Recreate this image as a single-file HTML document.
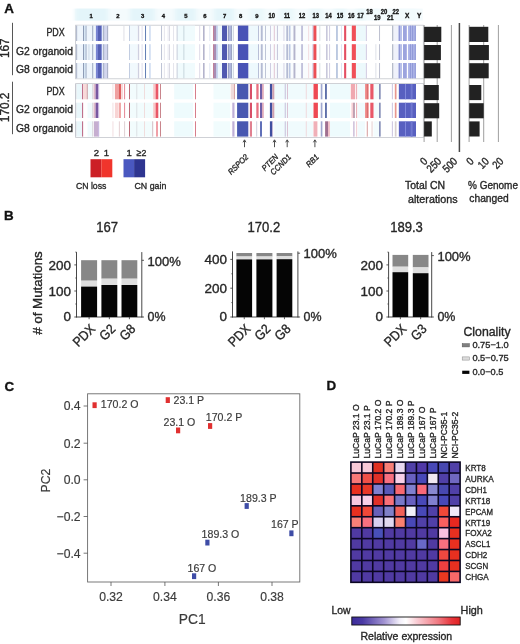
<!DOCTYPE html>
<html lang="en"><head><meta charset="utf-8"><title>Figure</title>
<style>
html,body{margin:0;padding:0;background:#fff;}
body{width:520px;height:644px;overflow:hidden;}
svg{display:block;font-family:"Liberation Sans",sans-serif;fill:#262626;}
text{stroke:#262626;stroke-width:0.34px;paint-order:stroke;}
.pc text{fill:#3a3a3a;stroke:#3a3a3a;stroke-width:0.16px;}
</style></head><body>
<svg width="520" height="644" viewBox="0 0 520 644">
<defs><filter id="bl" x="-2%" y="-5%" width="104%" height="110%"><feGaussianBlur stdDeviation="0.33"/></filter><filter id="hb" x="-2%" y="-10%" width="104%" height="120%"><feGaussianBlur stdDeviation="2.2 0.2"/></filter></defs>
<rect width="520" height="644" fill="#ffffff"/>
<g id="panelA">
<text x="4.2" y="12.5" font-size="13.4" font-weight="bold" fill="#111">A</text>
<line x1="12.5" y1="22.8" x2="12.5" y2="75.2" stroke="#444" stroke-width="0.9"/>
<line x1="12.5" y1="81.7" x2="12.5" y2="134.2" stroke="#444" stroke-width="0.9"/>
<text x="9.3" y="48.2" font-size="12" text-anchor="middle" transform="rotate(-90 9.3 48.2)" textLength="19.6" lengthAdjust="spacingAndGlyphs">167</text>
<text x="9.3" y="107.4" font-size="12" text-anchor="middle" transform="rotate(-90 9.3 107.4)" textLength="29.6" lengthAdjust="spacingAndGlyphs">170.2</text>
<text x="64.7" y="36.3" font-size="10.5" text-anchor="end" textLength="18.3" lengthAdjust="spacingAndGlyphs">PDX</text>
<text x="72.9" y="54.7" font-size="10.5" text-anchor="end" textLength="56.8" lengthAdjust="spacingAndGlyphs">G2 organoid</text>
<text x="72.9" y="73.25" font-size="10.5" text-anchor="end" textLength="56.8" lengthAdjust="spacingAndGlyphs">G8 organoid</text>
<text x="64.7" y="94.65" font-size="10.5" text-anchor="end" textLength="18.3" lengthAdjust="spacingAndGlyphs">PDX</text>
<text x="72.9" y="112.94999999999999" font-size="10.5" text-anchor="end" textLength="56.8" lengthAdjust="spacingAndGlyphs">G2 organoid</text>
<text x="72.9" y="131.54999999999998" font-size="10.5" text-anchor="end" textLength="56.8" lengthAdjust="spacingAndGlyphs">G8 organoid</text>
<rect x="75.20" y="8.60" width="347.50" height="12.00" fill="#f4fbfd"/>
<g filter="url(#hb)">
<rect x="75.20" y="8.60" width="32.80" height="12.00" fill="#e4f5fa"/>
<rect x="130.00" y="8.60" width="25.00" height="12.00" fill="#e4f5fa"/>
<rect x="175.00" y="8.60" width="21.00" height="12.00" fill="#e4f5fa"/>
<rect x="214.00" y="8.60" width="20.00" height="12.00" fill="#e4f5fa"/>
<rect x="249.00" y="8.60" width="15.00" height="12.00" fill="#ebf8fb"/>
<rect x="279.00" y="8.60" width="15.00" height="12.00" fill="#ebf8fb"/>
<rect x="309.00" y="8.60" width="13.00" height="12.00" fill="#ebf8fb"/>
<rect x="334.00" y="8.60" width="12.00" height="12.00" fill="#ebf8fb"/>
<rect x="356.00" y="8.60" width="9.00" height="12.00" fill="#ebf8fb"/>
<rect x="373.00" y="8.60" width="7.00" height="12.00" fill="#f2fbfd"/>
<rect x="387.00" y="8.60" width="5.50" height="12.00" fill="#f2fbfd"/>
<rect x="398.00" y="8.60" width="18.00" height="12.00" fill="#f2fbfd"/>
</g>
<text x="91.1" y="17.6" font-size="5.9" text-anchor="middle" font-weight="bold" fill="#111" stroke-width="0.12">1</text>
<text x="117.9" y="17.6" font-size="5.9" text-anchor="middle" font-weight="bold" fill="#111" stroke-width="0.12">2</text>
<text x="142.7" y="17.6" font-size="5.9" text-anchor="middle" font-weight="bold" fill="#111" stroke-width="0.12">3</text>
<text x="163.4" y="17.6" font-size="5.9" text-anchor="middle" font-weight="bold" fill="#111" stroke-width="0.12">4</text>
<text x="185.9" y="17.6" font-size="5.9" text-anchor="middle" font-weight="bold" fill="#111" stroke-width="0.12">5</text>
<text x="205" y="17.6" font-size="5.9" text-anchor="middle" font-weight="bold" fill="#111" stroke-width="0.12">6</text>
<text x="224.7" y="17.6" font-size="5.9" text-anchor="middle" font-weight="bold" fill="#111" stroke-width="0.12">7</text>
<text x="240.6" y="17.6" font-size="5.9" text-anchor="middle" font-weight="bold" fill="#111" stroke-width="0.12">8</text>
<text x="257" y="17.6" font-size="5.9" text-anchor="middle" font-weight="bold" fill="#111" stroke-width="0.12">9</text>
<text x="271.8" y="17.6" font-size="6.5" text-anchor="middle" font-weight="bold" textLength="6.51" lengthAdjust="spacingAndGlyphs" fill="#111" stroke-width="0.12">10</text>
<text x="287" y="17.6" font-size="6.5" text-anchor="middle" font-weight="bold" textLength="6.18" lengthAdjust="spacingAndGlyphs" fill="#111" stroke-width="0.12">11</text>
<text x="301.9" y="17.6" font-size="6.5" text-anchor="middle" font-weight="bold" textLength="6.51" lengthAdjust="spacingAndGlyphs" fill="#111" stroke-width="0.12">12</text>
<text x="315.7" y="17.6" font-size="6.5" text-anchor="middle" font-weight="bold" textLength="6.51" lengthAdjust="spacingAndGlyphs" fill="#111" stroke-width="0.12">13</text>
<text x="328.5" y="17.6" font-size="6.5" text-anchor="middle" font-weight="bold" textLength="6.51" lengthAdjust="spacingAndGlyphs" fill="#111" stroke-width="0.12">14</text>
<text x="340" y="17.6" font-size="6.5" text-anchor="middle" font-weight="bold" textLength="6.51" lengthAdjust="spacingAndGlyphs" fill="#111" stroke-width="0.12">15</text>
<text x="351.2" y="17.6" font-size="6.5" text-anchor="middle" font-weight="bold" textLength="6.51" lengthAdjust="spacingAndGlyphs" fill="#111" stroke-width="0.12">16</text>
<text x="360.4" y="17.6" font-size="6.5" text-anchor="middle" font-weight="bold" textLength="6.51" lengthAdjust="spacingAndGlyphs" fill="#111" stroke-width="0.12">17</text>
<text x="369.4" y="14.200000000000001" font-size="6.5" text-anchor="middle" font-weight="bold" textLength="6.51" lengthAdjust="spacingAndGlyphs" fill="#111" stroke-width="0.12">18</text>
<text x="377.2" y="19.900000000000002" font-size="6.5" text-anchor="middle" font-weight="bold" textLength="6.51" lengthAdjust="spacingAndGlyphs" fill="#111" stroke-width="0.12">19</text>
<text x="384.1" y="14.200000000000001" font-size="6.5" text-anchor="middle" font-weight="bold" textLength="6.51" lengthAdjust="spacingAndGlyphs" fill="#111" stroke-width="0.12">20</text>
<text x="390.2" y="19.900000000000002" font-size="6.5" text-anchor="middle" font-weight="bold" textLength="6.51" lengthAdjust="spacingAndGlyphs" fill="#111" stroke-width="0.12">21</text>
<text x="395.7" y="13.700000000000001" font-size="6.5" text-anchor="middle" font-weight="bold" textLength="6.51" lengthAdjust="spacingAndGlyphs" fill="#111" stroke-width="0.12">22</text>
<text x="407.1" y="17.6" font-size="6.5" text-anchor="middle" font-weight="bold" fill="#111" stroke-width="0.12">X</text>
<text x="419.2" y="17.6" font-size="6.5" text-anchor="middle" font-weight="bold" fill="#111" stroke-width="0.12">Y</text>
<rect x="75.6" y="25.2" width="347.7" height="53.6" fill="#fff" stroke="#c4c6cc" stroke-width="0.8"/>
<g filter="url(#bl)">
<rect x="77.20" y="25.60" width="18.70" height="15.40" fill="#eef5fc"/>
<rect x="101.90" y="25.60" width="1.40" height="15.40" fill="#eef5fc"/>
<rect x="130.00" y="25.60" width="7.50" height="15.40" fill="#f1f9fd"/>
<rect x="177.50" y="25.60" width="17.50" height="15.40" fill="#f0fbfd"/>
<rect x="217.70" y="25.60" width="4.30" height="15.40" fill="#eef8fd"/>
<rect x="231.60" y="25.60" width="1.90" height="15.40" fill="#eef8fd"/>
<rect x="248.30" y="25.60" width="9.70" height="15.40" fill="#eef9fd"/>
<rect x="258.00" y="25.60" width="54.00" height="15.40" fill="#f9fcfe"/>
<rect x="355.90" y="25.60" width="9.90" height="15.40" fill="#ecf9fc"/>
<rect x="393.20" y="25.60" width="5.00" height="15.40" fill="#f0f2fb"/>
<rect x="75.90" y="25.60" width="1.30" height="15.40" fill="#b4bccf"/>
<rect x="83.08" y="25.60" width="0.85" height="15.40" fill="#7482a2"/>
<rect x="83.90" y="25.60" width="2.60" height="15.40" fill="#d6e6f4"/>
<rect x="85.63" y="25.60" width="0.85" height="15.40" fill="#a0aac0"/>
<rect x="92.30" y="25.60" width="0.90" height="15.40" fill="#929eba"/>
<rect x="95.90" y="25.60" width="2.10" height="15.40" fill="#7884d2"/>
<rect x="98.00" y="25.60" width="3.40" height="15.40" fill="#5560b4"/>
<rect x="101.23" y="25.60" width="0.85" height="15.40" fill="#7884d2"/>
<rect x="103.30" y="25.60" width="4.80" height="15.40" fill="#d2d6ee"/>
<rect x="103.27" y="25.60" width="0.85" height="15.40" fill="#9ca4bc"/>
<rect x="107.20" y="25.60" width="0.90" height="15.40" fill="#a4aac0"/>
<rect x="123.50" y="25.60" width="0.90" height="15.40" fill="#dcdce4"/>
<rect x="129.12" y="25.60" width="0.85" height="15.40" fill="#b8c4dc"/>
<rect x="137.80" y="25.60" width="1.40" height="15.40" fill="#cfd0e0"/>
<rect x="141.60" y="25.60" width="1.00" height="15.40" fill="#dcdcec"/>
<rect x="145.17" y="25.60" width="0.85" height="15.40" fill="#4868a8"/>
<rect x="149.30" y="25.60" width="1.30" height="15.40" fill="#c4d4ee"/>
<rect x="161.18" y="25.60" width="0.85" height="15.40" fill="#b0b8cc"/>
<rect x="163.88" y="25.60" width="0.85" height="15.40" fill="#e0e0ea"/>
<rect x="167.68" y="25.60" width="0.85" height="15.40" fill="#e4e4ee"/>
<rect x="169.12" y="25.60" width="0.85" height="15.40" fill="#d4d4e0"/>
<rect x="173.18" y="25.60" width="0.85" height="15.40" fill="#e0e0e8"/>
<rect x="176.67" y="25.60" width="0.85" height="15.40" fill="#bcc4d4"/>
<rect x="183.47" y="25.60" width="0.85" height="15.40" fill="#c0d0d8"/>
<rect x="199.32" y="25.60" width="0.85" height="15.40" fill="#d8d4e4"/>
<rect x="203.00" y="25.60" width="1.60" height="15.40" fill="#b4b4cc"/>
<rect x="209.42" y="25.60" width="0.85" height="15.40" fill="#d8e0f0"/>
<rect x="213.00" y="25.60" width="1.00" height="15.40" fill="#c08098"/>
<rect x="214.00" y="25.60" width="2.25" height="15.40" fill="#a88cb4"/>
<rect x="216.25" y="25.60" width="1.45" height="15.40" fill="#b8c8e8"/>
<rect x="222.00" y="25.60" width="5.10" height="15.40" fill="#5058b0"/>
<rect x="228.10" y="25.60" width="3.50" height="15.40" fill="#b0b8e0"/>
<rect x="227.92" y="25.60" width="0.85" height="15.40" fill="#9098b8"/>
<rect x="230.92" y="25.60" width="0.85" height="15.40" fill="#9098b8"/>
<rect x="233.12" y="25.60" width="0.85" height="15.40" fill="#d0d4e0"/>
<rect x="237.90" y="25.60" width="10.40" height="15.40" fill="#4a52b6"/>
<rect x="258.07" y="25.60" width="0.85" height="15.40" fill="#adb4d0"/>
<rect x="260.80" y="25.60" width="1.90" height="15.40" fill="#b4bbd3"/>
<rect x="265.03" y="25.60" width="0.85" height="15.40" fill="#b4bbd0"/>
<rect x="270.03" y="25.60" width="0.85" height="15.40" fill="#c9c5dd"/>
<rect x="273.80" y="25.60" width="1.00" height="15.40" fill="#e1c5d3"/>
<rect x="276.93" y="25.60" width="0.85" height="15.40" fill="#bbbbd3"/>
<rect x="283.53" y="25.60" width="0.85" height="15.40" fill="#d0cce1"/>
<rect x="286.30" y="25.60" width="1.90" height="15.40" fill="#b4bbd3"/>
<rect x="289.20" y="25.60" width="1.20" height="15.40" fill="#adbbdd"/>
<rect x="293.50" y="25.60" width="1.90" height="15.40" fill="#b4b4cc"/>
<rect x="301.20" y="25.60" width="1.70" height="15.40" fill="#bbbbd7"/>
<rect x="308.27" y="25.60" width="0.85" height="15.40" fill="#f0d8dc"/>
<rect x="312.60" y="25.60" width="0.90" height="15.40" fill="#b0a8d0"/>
<rect x="313.50" y="25.60" width="2.90" height="15.40" fill="#ec5054"/>
<rect x="319.43" y="25.60" width="0.85" height="15.40" fill="#d0dce0"/>
<rect x="326.20" y="25.60" width="1.30" height="15.40" fill="#bbbbd3"/>
<rect x="329.22" y="25.60" width="0.85" height="15.40" fill="#c9c5dd"/>
<rect x="336.10" y="25.60" width="1.70" height="15.40" fill="#b4c2dd"/>
<rect x="341.03" y="25.60" width="0.85" height="15.40" fill="#d7e1f2"/>
<rect x="344.10" y="25.60" width="2.10" height="15.40" fill="#e45064"/>
<rect x="351.07" y="25.60" width="0.85" height="15.40" fill="#f4d8d8"/>
<rect x="352.00" y="25.60" width="3.90" height="15.40" fill="#f05058"/>
<rect x="365.88" y="25.60" width="0.85" height="15.40" fill="#c8c0dc"/>
<rect x="379.18" y="25.60" width="0.85" height="15.40" fill="#b0b4c6"/>
<rect x="392.30" y="25.60" width="0.90" height="15.40" fill="#98a0b4"/>
<rect x="398.20" y="25.60" width="3.80" height="15.40" fill="#b8c0ea"/>
<rect x="399.18" y="25.60" width="0.85" height="15.40" fill="#8890d0"/>
<rect x="403.00" y="25.60" width="3.80" height="15.40" fill="#9ca4de"/>
<rect x="408.00" y="25.60" width="8.00" height="15.40" fill="#aeb6e8"/>
<rect x="409.88" y="25.60" width="0.85" height="15.40" fill="#8890d2"/>
<rect x="412.27" y="25.60" width="0.85" height="15.40" fill="#8890d2"/>
<rect x="414.72" y="25.60" width="0.85" height="15.40" fill="#8890d2"/>
<rect x="77.20" y="44.20" width="18.70" height="15.80" fill="#eef5fc"/>
<rect x="101.90" y="44.20" width="1.40" height="15.80" fill="#eef5fc"/>
<rect x="130.00" y="44.20" width="7.50" height="15.80" fill="#f1f9fd"/>
<rect x="177.50" y="44.20" width="17.50" height="15.80" fill="#f0fbfd"/>
<rect x="217.70" y="44.20" width="4.30" height="15.80" fill="#eef8fd"/>
<rect x="231.60" y="44.20" width="1.90" height="15.80" fill="#eef8fd"/>
<rect x="248.30" y="44.20" width="9.70" height="15.80" fill="#eef9fd"/>
<rect x="258.00" y="44.20" width="54.00" height="15.80" fill="#f9fcfe"/>
<rect x="355.90" y="44.20" width="9.90" height="15.80" fill="#ecf9fc"/>
<rect x="393.20" y="44.20" width="5.00" height="15.80" fill="#f0f2fb"/>
<rect x="75.90" y="44.20" width="1.30" height="15.80" fill="#b4bccf"/>
<rect x="83.08" y="44.20" width="0.85" height="15.80" fill="#7482a2"/>
<rect x="83.90" y="44.20" width="2.60" height="15.80" fill="#d6e6f4"/>
<rect x="85.63" y="44.20" width="0.85" height="15.80" fill="#a0aac0"/>
<rect x="88.53" y="44.20" width="0.85" height="15.80" fill="#c8d4e4"/>
<rect x="92.30" y="44.20" width="0.90" height="15.80" fill="#929eba"/>
<rect x="95.90" y="44.20" width="2.10" height="15.80" fill="#7884d2"/>
<rect x="98.00" y="44.20" width="3.40" height="15.80" fill="#5560b4"/>
<rect x="101.23" y="44.20" width="0.85" height="15.80" fill="#7884d2"/>
<rect x="103.30" y="44.20" width="4.80" height="15.80" fill="#d2d6ee"/>
<rect x="103.27" y="44.20" width="0.85" height="15.80" fill="#9ca4bc"/>
<rect x="107.20" y="44.20" width="0.90" height="15.80" fill="#a4aac0"/>
<rect x="129.12" y="44.20" width="0.85" height="15.80" fill="#b8c4dc"/>
<rect x="137.80" y="44.20" width="1.40" height="15.80" fill="#cfd0e0"/>
<rect x="141.60" y="44.20" width="1.00" height="15.80" fill="#dcdcec"/>
<rect x="145.17" y="44.20" width="0.85" height="15.80" fill="#4868a8"/>
<rect x="149.30" y="44.20" width="1.30" height="15.80" fill="#c4d4ee"/>
<rect x="161.18" y="44.20" width="0.85" height="15.80" fill="#b0b8cc"/>
<rect x="163.88" y="44.20" width="0.85" height="15.80" fill="#e0e0ea"/>
<rect x="167.68" y="44.20" width="0.85" height="15.80" fill="#e4e4ee"/>
<rect x="169.12" y="44.20" width="0.85" height="15.80" fill="#d4d4e0"/>
<rect x="173.18" y="44.20" width="0.85" height="15.80" fill="#e0e0e8"/>
<rect x="176.67" y="44.20" width="0.85" height="15.80" fill="#bcc4d4"/>
<rect x="183.47" y="44.20" width="0.85" height="15.80" fill="#c0d0d8"/>
<rect x="199.32" y="44.20" width="0.85" height="15.80" fill="#d8d4e4"/>
<rect x="203.00" y="44.20" width="1.60" height="15.80" fill="#b4b4cc"/>
<rect x="209.42" y="44.20" width="0.85" height="15.80" fill="#d8e0f0"/>
<rect x="213.00" y="44.20" width="1.00" height="15.80" fill="#c08098"/>
<rect x="214.00" y="44.20" width="2.25" height="15.80" fill="#a88cb4"/>
<rect x="216.25" y="44.20" width="1.45" height="15.80" fill="#b8c8e8"/>
<rect x="222.00" y="44.20" width="5.10" height="15.80" fill="#5058b0"/>
<rect x="228.10" y="44.20" width="3.50" height="15.80" fill="#b0b8e0"/>
<rect x="227.92" y="44.20" width="0.85" height="15.80" fill="#9098b8"/>
<rect x="230.92" y="44.20" width="0.85" height="15.80" fill="#9098b8"/>
<rect x="233.12" y="44.20" width="0.85" height="15.80" fill="#d0d4e0"/>
<rect x="237.90" y="44.20" width="10.40" height="15.80" fill="#4a52b6"/>
<rect x="258.07" y="44.20" width="0.85" height="15.80" fill="#adb4d0"/>
<rect x="260.80" y="44.20" width="1.90" height="15.80" fill="#b4bbd3"/>
<rect x="265.03" y="44.20" width="0.85" height="15.80" fill="#b4bbd0"/>
<rect x="270.03" y="44.20" width="0.85" height="15.80" fill="#c9c5dd"/>
<rect x="273.80" y="44.20" width="1.00" height="15.80" fill="#e1c5d3"/>
<rect x="276.93" y="44.20" width="0.85" height="15.80" fill="#bbbbd3"/>
<rect x="283.53" y="44.20" width="0.85" height="15.80" fill="#d0cce1"/>
<rect x="286.30" y="44.20" width="1.90" height="15.80" fill="#b4bbd3"/>
<rect x="289.20" y="44.20" width="1.20" height="15.80" fill="#adbbdd"/>
<rect x="293.50" y="44.20" width="1.90" height="15.80" fill="#b4b4cc"/>
<rect x="301.20" y="44.20" width="1.70" height="15.80" fill="#bbbbd7"/>
<rect x="308.27" y="44.20" width="0.85" height="15.80" fill="#f0d8dc"/>
<rect x="312.60" y="44.20" width="0.90" height="15.80" fill="#b0a8d0"/>
<rect x="313.50" y="44.20" width="2.90" height="15.80" fill="#ec5054"/>
<rect x="319.43" y="44.20" width="0.85" height="15.80" fill="#d0dce0"/>
<rect x="326.20" y="44.20" width="1.30" height="15.80" fill="#bbbbd3"/>
<rect x="329.22" y="44.20" width="0.85" height="15.80" fill="#c9c5dd"/>
<rect x="336.10" y="44.20" width="1.70" height="15.80" fill="#b4c2dd"/>
<rect x="341.03" y="44.20" width="0.85" height="15.80" fill="#d7e1f2"/>
<rect x="344.10" y="44.20" width="2.10" height="15.80" fill="#e45064"/>
<rect x="351.07" y="44.20" width="0.85" height="15.80" fill="#f4d8d8"/>
<rect x="352.00" y="44.20" width="3.90" height="15.80" fill="#f05058"/>
<rect x="365.88" y="44.20" width="0.85" height="15.80" fill="#c8c0dc"/>
<rect x="375.47" y="44.20" width="0.85" height="15.80" fill="#d8dce4"/>
<rect x="379.18" y="44.20" width="0.85" height="15.80" fill="#b0b4c6"/>
<rect x="392.30" y="44.20" width="0.90" height="15.80" fill="#98a0b4"/>
<rect x="398.20" y="44.20" width="3.80" height="15.80" fill="#b8c0ea"/>
<rect x="399.18" y="44.20" width="0.85" height="15.80" fill="#8890d0"/>
<rect x="403.00" y="44.20" width="3.80" height="15.80" fill="#9ca4de"/>
<rect x="408.00" y="44.20" width="8.00" height="15.80" fill="#aeb6e8"/>
<rect x="409.88" y="44.20" width="0.85" height="15.80" fill="#8890d2"/>
<rect x="412.27" y="44.20" width="0.85" height="15.80" fill="#8890d2"/>
<rect x="414.72" y="44.20" width="0.85" height="15.80" fill="#8890d2"/>
<rect x="77.20" y="63.00" width="18.70" height="15.30" fill="#eef5fc"/>
<rect x="101.90" y="63.00" width="1.40" height="15.30" fill="#eef5fc"/>
<rect x="130.00" y="63.00" width="7.50" height="15.30" fill="#f1f9fd"/>
<rect x="177.50" y="63.00" width="17.50" height="15.30" fill="#f0fbfd"/>
<rect x="217.70" y="63.00" width="4.30" height="15.30" fill="#eef8fd"/>
<rect x="231.60" y="63.00" width="1.90" height="15.30" fill="#eef8fd"/>
<rect x="248.30" y="63.00" width="9.70" height="15.30" fill="#eef9fd"/>
<rect x="258.00" y="63.00" width="54.00" height="15.30" fill="#f9fcfe"/>
<rect x="355.90" y="63.00" width="9.90" height="15.30" fill="#ecf9fc"/>
<rect x="393.20" y="63.00" width="5.00" height="15.30" fill="#f0f2fb"/>
<rect x="75.90" y="63.00" width="1.30" height="15.30" fill="#b4bccf"/>
<rect x="83.08" y="63.00" width="0.85" height="15.30" fill="#7482a2"/>
<rect x="83.90" y="63.00" width="2.60" height="15.30" fill="#d6e6f4"/>
<rect x="85.63" y="63.00" width="0.85" height="15.30" fill="#a0aac0"/>
<rect x="92.30" y="63.00" width="0.90" height="15.30" fill="#929eba"/>
<rect x="95.90" y="63.00" width="2.10" height="15.30" fill="#7884d2"/>
<rect x="98.00" y="63.00" width="3.40" height="15.30" fill="#5560b4"/>
<rect x="101.23" y="63.00" width="0.85" height="15.30" fill="#7884d2"/>
<rect x="103.30" y="63.00" width="4.80" height="15.30" fill="#d2d6ee"/>
<rect x="103.27" y="63.00" width="0.85" height="15.30" fill="#9ca4bc"/>
<rect x="107.20" y="63.00" width="0.90" height="15.30" fill="#a4aac0"/>
<rect x="129.12" y="63.00" width="0.85" height="15.30" fill="#b8c4dc"/>
<rect x="137.80" y="63.00" width="1.40" height="15.30" fill="#cfd0e0"/>
<rect x="141.60" y="63.00" width="1.00" height="15.30" fill="#dcdcec"/>
<rect x="145.17" y="63.00" width="0.85" height="15.30" fill="#4868a8"/>
<rect x="149.30" y="63.00" width="1.30" height="15.30" fill="#c4d4ee"/>
<rect x="161.18" y="63.00" width="0.85" height="15.30" fill="#b0b8cc"/>
<rect x="163.88" y="63.00" width="0.85" height="15.30" fill="#e0e0ea"/>
<rect x="167.68" y="63.00" width="0.85" height="15.30" fill="#e4e4ee"/>
<rect x="169.12" y="63.00" width="0.85" height="15.30" fill="#d4d4e0"/>
<rect x="173.18" y="63.00" width="0.85" height="15.30" fill="#e0e0e8"/>
<rect x="176.67" y="63.00" width="0.85" height="15.30" fill="#bcc4d4"/>
<rect x="183.47" y="63.00" width="0.85" height="15.30" fill="#c0d0d8"/>
<rect x="199.32" y="63.00" width="0.85" height="15.30" fill="#d8d4e4"/>
<rect x="203.00" y="63.00" width="1.60" height="15.30" fill="#b4b4cc"/>
<rect x="209.42" y="63.00" width="0.85" height="15.30" fill="#d8e0f0"/>
<rect x="213.00" y="63.00" width="1.00" height="15.30" fill="#c08098"/>
<rect x="214.00" y="63.00" width="2.25" height="15.30" fill="#a88cb4"/>
<rect x="216.25" y="63.00" width="1.45" height="15.30" fill="#b8c8e8"/>
<rect x="222.00" y="63.00" width="5.10" height="15.30" fill="#5058b0"/>
<rect x="228.10" y="63.00" width="3.50" height="15.30" fill="#b0b8e0"/>
<rect x="227.92" y="63.00" width="0.85" height="15.30" fill="#9098b8"/>
<rect x="230.92" y="63.00" width="0.85" height="15.30" fill="#9098b8"/>
<rect x="233.12" y="63.00" width="0.85" height="15.30" fill="#d0d4e0"/>
<rect x="237.90" y="63.00" width="10.40" height="15.30" fill="#4a52b6"/>
<rect x="258.07" y="63.00" width="0.85" height="15.30" fill="#adb4d0"/>
<rect x="260.80" y="63.00" width="1.90" height="15.30" fill="#b4bbd3"/>
<rect x="265.03" y="63.00" width="0.85" height="15.30" fill="#b4bbd0"/>
<rect x="270.03" y="63.00" width="0.85" height="15.30" fill="#c9c5dd"/>
<rect x="273.80" y="63.00" width="1.00" height="15.30" fill="#e1c5d3"/>
<rect x="276.93" y="63.00" width="0.85" height="15.30" fill="#bbbbd3"/>
<rect x="283.53" y="63.00" width="0.85" height="15.30" fill="#d0cce1"/>
<rect x="286.30" y="63.00" width="1.90" height="15.30" fill="#b4bbd3"/>
<rect x="289.20" y="63.00" width="1.20" height="15.30" fill="#adbbdd"/>
<rect x="293.50" y="63.00" width="1.90" height="15.30" fill="#b4b4cc"/>
<rect x="301.20" y="63.00" width="1.70" height="15.30" fill="#bbbbd7"/>
<rect x="308.27" y="63.00" width="0.85" height="15.30" fill="#f0d8dc"/>
<rect x="312.60" y="63.00" width="0.90" height="15.30" fill="#b0a8d0"/>
<rect x="313.50" y="63.00" width="2.90" height="15.30" fill="#ec5054"/>
<rect x="319.43" y="63.00" width="0.85" height="15.30" fill="#d0dce0"/>
<rect x="326.20" y="63.00" width="1.30" height="15.30" fill="#bbbbd3"/>
<rect x="329.22" y="63.00" width="0.85" height="15.30" fill="#c9c5dd"/>
<rect x="336.10" y="63.00" width="1.70" height="15.30" fill="#b4c2dd"/>
<rect x="341.03" y="63.00" width="0.85" height="15.30" fill="#d7e1f2"/>
<rect x="344.10" y="63.00" width="2.10" height="15.30" fill="#e45064"/>
<rect x="351.07" y="63.00" width="0.85" height="15.30" fill="#f4d8d8"/>
<rect x="352.00" y="63.00" width="3.90" height="15.30" fill="#f05058"/>
<rect x="365.88" y="63.00" width="0.85" height="15.30" fill="#c8c0dc"/>
<rect x="375.47" y="63.00" width="0.85" height="15.30" fill="#d8dce4"/>
<rect x="379.18" y="63.00" width="0.85" height="15.30" fill="#b0b4c6"/>
<rect x="392.30" y="63.00" width="0.90" height="15.30" fill="#98a0b4"/>
<rect x="398.20" y="63.00" width="3.80" height="15.30" fill="#b8c0ea"/>
<rect x="399.18" y="63.00" width="0.85" height="15.30" fill="#8890d0"/>
<rect x="403.00" y="63.00" width="3.80" height="15.30" fill="#9ca4de"/>
<rect x="408.00" y="63.00" width="8.00" height="15.30" fill="#aeb6e8"/>
<rect x="409.88" y="63.00" width="0.85" height="15.30" fill="#8890d2"/>
<rect x="412.27" y="63.00" width="0.85" height="15.30" fill="#8890d2"/>
<rect x="414.72" y="63.00" width="0.85" height="15.30" fill="#8890d2"/>
</g>
<rect x="75.6" y="83.6" width="347.7" height="53.8" fill="#fff" stroke="#c4c6cc" stroke-width="0.8"/>
<g filter="url(#bl)">
<rect x="76.50" y="84.00" width="5.50" height="15.30" fill="#e9f7fb"/>
<rect x="87.50" y="84.00" width="5.50" height="15.30" fill="#f0fbfd"/>
<rect x="130.00" y="84.00" width="23.00" height="15.30" fill="#f2fcfd"/>
<rect x="174.20" y="84.00" width="18.80" height="15.30" fill="#eefbfd"/>
<rect x="213.50" y="84.00" width="16.50" height="15.30" fill="#f1fcfd"/>
<rect x="274.30" y="84.00" width="38.70" height="15.30" fill="#f0fbfd"/>
<rect x="330.00" y="84.00" width="20.00" height="15.30" fill="#eefbfd"/>
<rect x="357.60" y="84.00" width="7.40" height="15.30" fill="#f0fbfd"/>
<rect x="373.50" y="84.00" width="5.50" height="15.30" fill="#f3fcfd"/>
<rect x="75.38" y="84.00" width="0.85" height="15.30" fill="#c0c4cc"/>
<rect x="82.20" y="84.00" width="0.90" height="15.30" fill="#b05070"/>
<rect x="83.10" y="84.00" width="3.90" height="15.30" fill="#f8dada"/>
<rect x="86.83" y="84.00" width="0.85" height="15.30" fill="#c09098"/>
<rect x="92.42" y="84.00" width="0.85" height="15.30" fill="#d0c8d0"/>
<rect x="93.70" y="84.00" width="1.90" height="15.30" fill="#e0b8c8"/>
<rect x="95.60" y="84.00" width="2.40" height="15.30" fill="#7858a0"/>
<rect x="98.00" y="84.00" width="1.20" height="15.30" fill="#c8b8e0"/>
<rect x="112.53" y="84.00" width="0.85" height="15.30" fill="#f0d8dc"/>
<rect x="114.90" y="84.00" width="3.80" height="15.30" fill="#f0a0a0"/>
<rect x="118.70" y="84.00" width="2.40" height="15.30" fill="#e06060"/>
<rect x="121.10" y="84.00" width="1.90" height="15.30" fill="#f8d8d8"/>
<rect x="124.23" y="84.00" width="0.85" height="15.30" fill="#e07080"/>
<rect x="129.02" y="84.00" width="0.85" height="15.30" fill="#b05060"/>
<rect x="136.38" y="84.00" width="0.85" height="15.30" fill="#d8dce0"/>
<rect x="144.07" y="84.00" width="0.85" height="15.30" fill="#f0d8d8"/>
<rect x="153.20" y="84.00" width="2.40" height="15.30" fill="#f8c8c8"/>
<rect x="155.60" y="84.00" width="2.70" height="15.30" fill="#e85868"/>
<rect x="160.02" y="84.00" width="0.85" height="15.30" fill="#c07078"/>
<rect x="195.02" y="84.00" width="0.85" height="15.30" fill="#d06878"/>
<rect x="230.70" y="84.00" width="3.30" height="15.30" fill="#f0dada"/>
<rect x="233.97" y="84.00" width="0.85" height="15.30" fill="#d09090"/>
<rect x="237.10" y="84.00" width="11.20" height="15.30" fill="#4858b0"/>
<rect x="249.90" y="84.00" width="2.10" height="15.30" fill="#d85068"/>
<rect x="256.30" y="84.00" width="2.30" height="15.30" fill="#e87080"/>
<rect x="260.00" y="84.00" width="2.25" height="15.30" fill="#7060a8"/>
<rect x="262.25" y="84.00" width="1.45" height="15.30" fill="#e0a0b0"/>
<rect x="269.90" y="84.00" width="2.40" height="15.30" fill="#4050a0"/>
<rect x="272.30" y="84.00" width="2.00" height="15.30" fill="#d0a0b0"/>
<rect x="284.78" y="84.00" width="0.85" height="15.30" fill="#c0b4d4"/>
<rect x="287.07" y="84.00" width="0.85" height="15.30" fill="#d8b8cc"/>
<rect x="305.82" y="84.00" width="0.85" height="15.30" fill="#f0d4d8"/>
<rect x="313.50" y="84.00" width="4.40" height="15.30" fill="#ee4a52"/>
<rect x="320.75" y="84.00" width="1.65" height="15.30" fill="#a0a8d0"/>
<rect x="325.10" y="84.00" width="1.70" height="15.30" fill="#5060a0"/>
<rect x="350.80" y="84.00" width="4.40" height="15.30" fill="#f0a8b0"/>
<rect x="356.20" y="84.00" width="0.90" height="15.30" fill="#e8a0a8"/>
<rect x="365.10" y="84.00" width="3.60" height="15.30" fill="#f08888"/>
<rect x="366.88" y="84.00" width="0.85" height="15.30" fill="#d06868"/>
<rect x="370.30" y="84.00" width="3.20" height="15.30" fill="#e85868"/>
<rect x="379.00" y="84.00" width="1.70" height="15.30" fill="#8890b8"/>
<rect x="391.88" y="84.00" width="0.85" height="15.30" fill="#c0b8d8"/>
<rect x="394.80" y="84.00" width="1.70" height="15.30" fill="#e89890"/>
<rect x="398.85" y="84.00" width="17.15" height="15.30" fill="#5860c0"/>
<rect x="405.02" y="84.00" width="0.85" height="15.30" fill="#8890e0"/>
<rect x="410.70" y="84.00" width="1.90" height="15.30" fill="#7078d0"/>
<rect x="76.50" y="102.70" width="5.50" height="15.30" fill="#e9f7fb"/>
<rect x="87.50" y="102.70" width="5.50" height="15.30" fill="#f0fbfd"/>
<rect x="130.00" y="102.70" width="23.00" height="15.30" fill="#f2fcfd"/>
<rect x="174.20" y="102.70" width="18.80" height="15.30" fill="#eefbfd"/>
<rect x="213.50" y="102.70" width="16.50" height="15.30" fill="#f1fcfd"/>
<rect x="274.30" y="102.70" width="38.70" height="15.30" fill="#f0fbfd"/>
<rect x="330.00" y="102.70" width="20.00" height="15.30" fill="#eefbfd"/>
<rect x="357.60" y="102.70" width="7.40" height="15.30" fill="#f0fbfd"/>
<rect x="373.50" y="102.70" width="5.50" height="15.30" fill="#f3fcfd"/>
<rect x="75.38" y="102.70" width="0.85" height="15.30" fill="#c0c4cc"/>
<rect x="82.20" y="102.70" width="0.90" height="15.30" fill="#b05070"/>
<rect x="92.42" y="102.70" width="0.85" height="15.30" fill="#d0c8d0"/>
<rect x="93.70" y="102.70" width="1.90" height="15.30" fill="#e0b8c8"/>
<rect x="95.60" y="102.70" width="2.40" height="15.30" fill="#7858a0"/>
<rect x="98.00" y="102.70" width="1.20" height="15.30" fill="#c8b8e0"/>
<rect x="112.53" y="102.70" width="0.85" height="15.30" fill="#f0d8dc"/>
<rect x="114.90" y="102.70" width="3.80" height="15.30" fill="#f8d4d4"/>
<rect x="119.00" y="102.70" width="2.00" height="15.30" fill="#f0a8a8"/>
<rect x="124.23" y="102.70" width="0.85" height="15.30" fill="#e07080"/>
<rect x="129.02" y="102.70" width="0.85" height="15.30" fill="#b05060"/>
<rect x="136.38" y="102.70" width="0.85" height="15.30" fill="#d8dce0"/>
<rect x="144.07" y="102.70" width="0.85" height="15.30" fill="#f0d8d8"/>
<rect x="153.20" y="102.70" width="2.40" height="15.30" fill="#f8c8c8"/>
<rect x="155.60" y="102.70" width="2.70" height="15.30" fill="#e85868"/>
<rect x="160.02" y="102.70" width="0.85" height="15.30" fill="#c07078"/>
<rect x="195.02" y="102.70" width="0.85" height="15.30" fill="#d06878"/>
<rect x="232.30" y="102.70" width="2.20" height="15.30" fill="#c0b0d8"/>
<rect x="237.10" y="102.70" width="11.20" height="15.30" fill="#4858b0"/>
<rect x="249.90" y="102.70" width="2.10" height="15.30" fill="#d85068"/>
<rect x="256.30" y="102.70" width="2.30" height="15.30" fill="#e87080"/>
<rect x="260.00" y="102.70" width="2.25" height="15.30" fill="#7060a8"/>
<rect x="262.25" y="102.70" width="1.45" height="15.30" fill="#e0a0b0"/>
<rect x="269.90" y="102.70" width="2.40" height="15.30" fill="#4050a0"/>
<rect x="272.30" y="102.70" width="2.00" height="15.30" fill="#d0a0b0"/>
<rect x="284.78" y="102.70" width="0.85" height="15.30" fill="#c0b4d4"/>
<rect x="287.07" y="102.70" width="0.85" height="15.30" fill="#d8b8cc"/>
<rect x="305.82" y="102.70" width="0.85" height="15.30" fill="#f0d4d8"/>
<rect x="313.50" y="102.70" width="4.40" height="15.30" fill="#ee4a52"/>
<rect x="320.75" y="102.70" width="1.65" height="15.30" fill="#a0a8d0"/>
<rect x="325.10" y="102.70" width="1.70" height="15.30" fill="#5060a0"/>
<rect x="351.40" y="102.70" width="1.90" height="15.30" fill="#f8d0d4"/>
<rect x="353.30" y="102.70" width="1.40" height="15.30" fill="#a88098"/>
<rect x="356.20" y="102.70" width="0.90" height="15.30" fill="#e8a0a8"/>
<rect x="365.10" y="102.70" width="3.60" height="15.30" fill="#f08888"/>
<rect x="366.88" y="102.70" width="0.85" height="15.30" fill="#d06868"/>
<rect x="370.30" y="102.70" width="3.20" height="15.30" fill="#e85868"/>
<rect x="379.00" y="102.70" width="1.70" height="15.30" fill="#8890b8"/>
<rect x="391.88" y="102.70" width="0.85" height="15.30" fill="#c0b8d8"/>
<rect x="394.80" y="102.70" width="1.70" height="15.30" fill="#e89890"/>
<rect x="398.85" y="102.70" width="17.15" height="15.30" fill="#5860c0"/>
<rect x="405.02" y="102.70" width="0.85" height="15.30" fill="#8890e0"/>
<rect x="410.70" y="102.70" width="1.90" height="15.30" fill="#7078d0"/>
<rect x="76.50" y="121.30" width="5.50" height="15.30" fill="#e9f7fb"/>
<rect x="87.50" y="121.30" width="5.50" height="15.30" fill="#f0fbfd"/>
<rect x="130.00" y="121.30" width="23.00" height="15.30" fill="#f2fcfd"/>
<rect x="174.20" y="121.30" width="18.80" height="15.30" fill="#eefbfd"/>
<rect x="213.50" y="121.30" width="16.50" height="15.30" fill="#f1fcfd"/>
<rect x="274.30" y="121.30" width="38.70" height="15.30" fill="#f0fbfd"/>
<rect x="330.00" y="121.30" width="20.00" height="15.30" fill="#eefbfd"/>
<rect x="357.60" y="121.30" width="7.40" height="15.30" fill="#f0fbfd"/>
<rect x="373.50" y="121.30" width="5.50" height="15.30" fill="#f3fcfd"/>
<rect x="75.38" y="121.30" width="0.85" height="15.30" fill="#c0c4cc"/>
<rect x="82.20" y="121.30" width="0.90" height="15.30" fill="#b05070"/>
<rect x="92.42" y="121.30" width="0.85" height="15.30" fill="#d0c8d0"/>
<rect x="94.00" y="121.30" width="4.50" height="15.30" fill="#c6aed0"/>
<rect x="98.00" y="121.30" width="1.20" height="15.30" fill="#c8b8e0"/>
<rect x="112.53" y="121.30" width="0.85" height="15.30" fill="#f0d8dc"/>
<rect x="118.88" y="121.30" width="0.85" height="15.30" fill="#e0c8cc"/>
<rect x="124.23" y="121.30" width="0.85" height="15.30" fill="#d8c8cc"/>
<rect x="129.02" y="121.30" width="0.85" height="15.30" fill="#b05060"/>
<rect x="136.38" y="121.30" width="0.85" height="15.30" fill="#d8dce0"/>
<rect x="144.07" y="121.30" width="0.85" height="15.30" fill="#f0d8d8"/>
<rect x="152.32" y="121.30" width="0.85" height="15.30" fill="#d0b0b8"/>
<rect x="156.00" y="121.30" width="2.00" height="15.30" fill="#f0a0a8"/>
<rect x="160.02" y="121.30" width="0.85" height="15.30" fill="#c07078"/>
<rect x="195.02" y="121.30" width="0.85" height="15.30" fill="#d06878"/>
<rect x="232.30" y="121.30" width="2.20" height="15.30" fill="#c0b0d8"/>
<rect x="237.10" y="121.30" width="11.20" height="15.30" fill="#4858b0"/>
<rect x="249.90" y="121.30" width="2.10" height="15.30" fill="#e08090"/>
<rect x="256.32" y="121.30" width="0.85" height="15.30" fill="#c8c8d8"/>
<rect x="260.00" y="121.30" width="2.00" height="15.30" fill="#6070b8"/>
<rect x="269.90" y="121.30" width="2.40" height="15.30" fill="#4050a0"/>
<rect x="272.22" y="121.30" width="0.85" height="15.30" fill="#c0b0d0"/>
<rect x="284.78" y="121.30" width="0.85" height="15.30" fill="#c0b4d4"/>
<rect x="287.07" y="121.30" width="0.85" height="15.30" fill="#d8b8cc"/>
<rect x="305.82" y="121.30" width="0.85" height="15.30" fill="#f0d4d8"/>
<rect x="313.50" y="121.30" width="3.90" height="15.30" fill="#f0b0b8"/>
<rect x="320.75" y="121.30" width="1.65" height="15.30" fill="#a0a8d0"/>
<rect x="325.10" y="121.30" width="2.90" height="15.30" fill="#a07090"/>
<rect x="328.00" y="121.30" width="1.90" height="15.30" fill="#f0c0c8"/>
<rect x="353.30" y="121.30" width="1.20" height="15.30" fill="#c0b0d0"/>
<rect x="356.20" y="121.30" width="0.90" height="15.30" fill="#f0c8cc"/>
<rect x="366.80" y="121.30" width="0.90" height="15.30" fill="#d09090"/>
<rect x="371.62" y="121.30" width="0.85" height="15.30" fill="#e0c8c8"/>
<rect x="379.00" y="121.30" width="1.70" height="15.30" fill="#8890b8"/>
<rect x="391.88" y="121.30" width="0.85" height="15.30" fill="#c0b8d8"/>
<rect x="394.80" y="121.30" width="1.70" height="15.30" fill="#d8d0d0"/>
<rect x="398.85" y="121.30" width="17.15" height="15.30" fill="#5860c0"/>
<rect x="405.02" y="121.30" width="0.85" height="15.30" fill="#8890e0"/>
<rect x="410.70" y="121.30" width="1.90" height="15.30" fill="#7078d0"/>
</g>
<line x1="244.5" y1="140.6" x2="244.5" y2="147.2" stroke="#222" stroke-width="0.8"/>
<path d="M243.0 142.3 L244.5 139.8 L246.0 142.3" fill="none" stroke="#222" stroke-width="0.8"/>
<text x="248.9" y="157.6" font-size="8.2" text-anchor="end" font-style="italic" transform="rotate(-45 248.9 157.6)" textLength="25.02" lengthAdjust="spacingAndGlyphs">RSPO2</text>
<line x1="274.5" y1="140.6" x2="274.5" y2="147.2" stroke="#222" stroke-width="0.8"/>
<path d="M273.0 142.3 L274.5 139.8 L276.0 142.3" fill="none" stroke="#222" stroke-width="0.8"/>
<text x="278.9" y="157.6" font-size="8.2" text-anchor="end" font-style="italic" transform="rotate(-45 278.9 157.6)" textLength="19.68" lengthAdjust="spacingAndGlyphs">PTEN</text>
<line x1="287.2" y1="140.6" x2="287.2" y2="147.2" stroke="#222" stroke-width="0.8"/>
<path d="M285.7 142.3 L287.2 139.8 L288.7 142.3" fill="none" stroke="#222" stroke-width="0.8"/>
<text x="291.59999999999997" y="157.6" font-size="8.2" text-anchor="end" font-style="italic" transform="rotate(-45 291.59999999999997 157.6)" textLength="25.42" lengthAdjust="spacingAndGlyphs">CCND1</text>
<line x1="314.9" y1="140.6" x2="314.9" y2="147.2" stroke="#222" stroke-width="0.8"/>
<path d="M313.4 142.3 L314.9 139.8 L316.4 142.3" fill="none" stroke="#222" stroke-width="0.8"/>
<text x="319.29999999999995" y="157.6" font-size="8.2" text-anchor="end" font-style="italic" transform="rotate(-45 319.29999999999995 157.6)" textLength="14.36" lengthAdjust="spacingAndGlyphs">RB1</text>
<rect x="90.50" y="159.20" width="10.80" height="18.10" fill="#cc2026"/>
<rect x="101.30" y="159.20" width="11.00" height="18.10" fill="#f0352c"/>
<rect x="123.50" y="159.20" width="10.60" height="18.10" fill="#4a58c0"/>
<rect x="134.10" y="159.20" width="11.00" height="18.10" fill="#2e3590"/>
<text x="96.4" y="156" font-size="9.6" text-anchor="middle">2</text>
<text x="106.4" y="156" font-size="9.6" text-anchor="middle">1</text>
<text x="129.2" y="156" font-size="9.6" text-anchor="middle">1</text>
<text x="141.5" y="156" font-size="9.6" text-anchor="middle" textLength="9.76" lengthAdjust="spacingAndGlyphs">≥2</text>
<text x="75.9" y="188.9" font-size="9.7" textLength="30.5" lengthAdjust="spacingAndGlyphs">CN loss</text>
<text x="134.5" y="188.9" font-size="9.7" textLength="31.8" lengthAdjust="spacingAndGlyphs">CN gain</text>
<line x1="424.1" y1="25" x2="424.1" y2="142" stroke="#8e8e8e" stroke-width="0.85"/>
<line x1="437.2" y1="25" x2="437.2" y2="142" stroke="#8e8e8e" stroke-width="0.85"/>
<line x1="451.4" y1="25" x2="451.4" y2="142" stroke="#8e8e8e" stroke-width="0.85"/>
<line x1="469.1" y1="25" x2="469.1" y2="142" stroke="#8e8e8e" stroke-width="0.85"/>
<line x1="483.7" y1="25" x2="483.7" y2="142" stroke="#8e8e8e" stroke-width="0.85"/>
<line x1="498.4" y1="25" x2="498.4" y2="142" stroke="#8e8e8e" stroke-width="0.85"/>
<line x1="459.4" y1="23" x2="459.4" y2="152" stroke="#484848" stroke-width="1.5"/>
<rect x="424.10" y="26.80" width="17.20" height="15.20" fill="#222"/>
<rect x="469.20" y="26.80" width="19.10" height="15.20" fill="#222"/>
<rect x="424.10" y="45.00" width="16.80" height="15.10" fill="#222"/>
<rect x="469.20" y="45.00" width="19.70" height="15.10" fill="#222"/>
<rect x="424.10" y="63.20" width="16.20" height="15.10" fill="#222"/>
<rect x="469.20" y="63.20" width="19.50" height="15.10" fill="#222"/>
<rect x="424.10" y="85.00" width="14.70" height="15.10" fill="#222"/>
<rect x="469.20" y="85.00" width="12.10" height="15.10" fill="#222"/>
<rect x="424.10" y="103.20" width="15.10" height="15.10" fill="#222"/>
<rect x="469.20" y="103.20" width="14.50" height="15.10" fill="#222"/>
<rect x="424.10" y="121.40" width="7.70" height="15.10" fill="#222"/>
<rect x="469.20" y="121.40" width="10.40" height="15.10" fill="#222"/>
<text x="428.3" y="162.0" font-size="11" text-anchor="end" transform="rotate(-45 428.3 162.0)" textLength="5.26" lengthAdjust="spacingAndGlyphs">0</text>
<text x="442.1" y="162.0" font-size="11" text-anchor="end" transform="rotate(-45 442.1 162.0)" textLength="15.78" lengthAdjust="spacingAndGlyphs">250</text>
<text x="458.1" y="162.0" font-size="11" text-anchor="end" transform="rotate(-45 458.1 162.0)" textLength="15.78" lengthAdjust="spacingAndGlyphs">500</text>
<text x="474.6" y="162.0" font-size="11" text-anchor="end" transform="rotate(-45 474.6 162.0)" textLength="5.26" lengthAdjust="spacingAndGlyphs">0</text>
<text x="489.6" y="162.0" font-size="11" text-anchor="end" transform="rotate(-45 489.6 162.0)" textLength="10.52" lengthAdjust="spacingAndGlyphs">10</text>
<text x="504.1" y="162.0" font-size="11" text-anchor="end" transform="rotate(-45 504.1 162.0)" textLength="10.52" lengthAdjust="spacingAndGlyphs">20</text>
<text x="405" y="188.8" font-size="10.6" textLength="40" lengthAdjust="spacingAndGlyphs">Total CN</text>
<text x="408" y="202.7" font-size="10.6" textLength="49.6" lengthAdjust="spacingAndGlyphs">alterations</text>
<text x="468" y="188.8" font-size="10.6" textLength="50" lengthAdjust="spacingAndGlyphs">% Genome</text>
<text x="469.3" y="201.6" font-size="10.6" textLength="39.4" lengthAdjust="spacingAndGlyphs">changed</text>
</g>
<g id="panelB">
<text x="4.1" y="219.8" font-size="13.4" font-weight="bold" fill="#111">B</text>
<text x="107.1" y="231.7" font-size="14.2" text-anchor="middle" textLength="21.8" lengthAdjust="spacingAndGlyphs">167</text>
<line x1="76.5" y1="252.1" x2="76.5" y2="317.4" stroke="#333" stroke-width="0.9"/>
<line x1="141.8" y1="252.1" x2="141.8" y2="317.4" stroke="#333" stroke-width="0.9"/>
<line x1="76.05" y1="317" x2="142.25" y2="317" stroke="#333" stroke-width="0.9"/>
<line x1="74.3" y1="264.9" x2="76.5" y2="264.9" stroke="#333" stroke-width="0.8"/>
<text x="70.9" y="269.79999999999995" font-size="12.8" text-anchor="end" textLength="22.5" lengthAdjust="spacingAndGlyphs">200</text>
<line x1="74.3" y1="291" x2="76.5" y2="291" stroke="#333" stroke-width="0.8"/>
<text x="70.9" y="295.9" font-size="12.8" text-anchor="end" textLength="22.5" lengthAdjust="spacingAndGlyphs">100</text>
<line x1="74.3" y1="317" x2="76.5" y2="317" stroke="#333" stroke-width="0.8"/>
<text x="70.9" y="320.8" font-size="12.8" text-anchor="end" textLength="7.5" lengthAdjust="spacingAndGlyphs">0</text>
<line x1="75.3" y1="252.1" x2="76.5" y2="252.1" stroke="#333" stroke-width="0.7"/>
<line x1="75.3" y1="278" x2="76.5" y2="278" stroke="#333" stroke-width="0.7"/>
<line x1="75.3" y1="304" x2="76.5" y2="304" stroke="#333" stroke-width="0.7"/>
<line x1="141.8" y1="260.3" x2="144.0" y2="260.3" stroke="#333" stroke-width="0.8"/>
<line x1="141.8" y1="317" x2="144.0" y2="317" stroke="#333" stroke-width="0.8"/>
<text x="147.5" y="265.5" font-size="12.8" textLength="33.3" lengthAdjust="spacingAndGlyphs">100%</text>
<text x="147.5" y="320.6" font-size="12.8" textLength="18" lengthAdjust="spacingAndGlyphs">0%</text>
<rect x="81.10" y="260.20" width="16.00" height="20.50" fill="#878787"/>
<rect x="81.10" y="280.70" width="16.00" height="5.90" fill="#dedede"/>
<rect x="81.10" y="286.60" width="16.00" height="30.40" fill="#050505"/>
<line x1="89.1" y1="317" x2="89.1" y2="319.2" stroke="#333" stroke-width="0.8"/>
<text x="96.1" y="329.7" font-size="13.4" text-anchor="end" transform="rotate(-45 96.1 329.7)" textLength="25.07" lengthAdjust="spacingAndGlyphs">PDX</text>
<rect x="101.40" y="260.20" width="15.90" height="18.50" fill="#878787"/>
<rect x="101.40" y="278.70" width="15.90" height="6.30" fill="#dedede"/>
<rect x="101.40" y="285.00" width="15.90" height="32.00" fill="#050505"/>
<line x1="109.35" y1="317" x2="109.35" y2="319.2" stroke="#333" stroke-width="0.8"/>
<text x="116.35" y="329.7" font-size="13.4" text-anchor="end" transform="rotate(-45 116.35 329.7)" textLength="16.27" lengthAdjust="spacingAndGlyphs">G2</text>
<rect x="121.50" y="260.20" width="15.80" height="18.50" fill="#878787"/>
<rect x="121.50" y="278.70" width="15.80" height="6.30" fill="#dedede"/>
<rect x="121.50" y="285.00" width="15.80" height="32.00" fill="#050505"/>
<line x1="129.4" y1="317" x2="129.4" y2="319.2" stroke="#333" stroke-width="0.8"/>
<text x="136.4" y="329.7" font-size="13.4" text-anchor="end" transform="rotate(-45 136.4 329.7)" textLength="16.27" lengthAdjust="spacingAndGlyphs">G8</text>
<text x="263.90000000000003" y="231.7" font-size="14.2" text-anchor="middle" textLength="32.69" lengthAdjust="spacingAndGlyphs">170.2</text>
<line x1="232.5" y1="251.4" x2="232.5" y2="317.4" stroke="#333" stroke-width="0.9"/>
<line x1="297.9" y1="251.4" x2="297.9" y2="317.4" stroke="#333" stroke-width="0.9"/>
<line x1="232.05" y1="317" x2="298.34999999999997" y2="317" stroke="#333" stroke-width="0.9"/>
<line x1="230.3" y1="259.4" x2="232.5" y2="259.4" stroke="#333" stroke-width="0.8"/>
<text x="226.9" y="264.29999999999995" font-size="12.8" text-anchor="end" textLength="22.5" lengthAdjust="spacingAndGlyphs">400</text>
<line x1="230.3" y1="288.2" x2="232.5" y2="288.2" stroke="#333" stroke-width="0.8"/>
<text x="226.9" y="293.09999999999997" font-size="12.8" text-anchor="end" textLength="22.5" lengthAdjust="spacingAndGlyphs">200</text>
<line x1="230.3" y1="317" x2="232.5" y2="317" stroke="#333" stroke-width="0.8"/>
<text x="226.9" y="320.8" font-size="12.8" text-anchor="end" textLength="7.5" lengthAdjust="spacingAndGlyphs">0</text>
<line x1="231.3" y1="273.8" x2="232.5" y2="273.8" stroke="#333" stroke-width="0.7"/>
<line x1="231.3" y1="302.6" x2="232.5" y2="302.6" stroke="#333" stroke-width="0.7"/>
<line x1="297.9" y1="253.2" x2="300.09999999999997" y2="253.2" stroke="#333" stroke-width="0.8"/>
<line x1="297.9" y1="317" x2="300.09999999999997" y2="317" stroke="#333" stroke-width="0.8"/>
<text x="303.59999999999997" y="258.4" font-size="12.8" textLength="33.3" lengthAdjust="spacingAndGlyphs">100%</text>
<text x="303.59999999999997" y="320.6" font-size="12.8" textLength="18" lengthAdjust="spacingAndGlyphs">0%</text>
<rect x="236.40" y="253.00" width="15.70" height="3.50" fill="#878787"/>
<rect x="236.40" y="256.50" width="15.70" height="2.90" fill="#dedede"/>
<rect x="236.40" y="259.40" width="15.70" height="57.60" fill="#050505"/>
<line x1="244.25" y1="317" x2="244.25" y2="319.2" stroke="#333" stroke-width="0.8"/>
<text x="251.25" y="329.7" font-size="13.4" text-anchor="end" transform="rotate(-45 251.25 329.7)" textLength="25.07" lengthAdjust="spacingAndGlyphs">PDX</text>
<rect x="256.40" y="253.00" width="16.00" height="3.50" fill="#878787"/>
<rect x="256.40" y="256.50" width="16.00" height="2.90" fill="#dedede"/>
<rect x="256.40" y="259.40" width="16.00" height="57.60" fill="#050505"/>
<line x1="264.4" y1="317" x2="264.4" y2="319.2" stroke="#333" stroke-width="0.8"/>
<text x="271.4" y="329.7" font-size="13.4" text-anchor="end" transform="rotate(-45 271.4 329.7)" textLength="16.27" lengthAdjust="spacingAndGlyphs">G2</text>
<rect x="276.60" y="253.00" width="15.70" height="3.30" fill="#878787"/>
<rect x="276.60" y="256.30" width="15.70" height="2.90" fill="#dedede"/>
<rect x="276.60" y="259.20" width="15.70" height="57.80" fill="#050505"/>
<line x1="284.45000000000005" y1="317" x2="284.45000000000005" y2="319.2" stroke="#333" stroke-width="0.8"/>
<text x="291.45000000000005" y="329.7" font-size="13.4" text-anchor="end" transform="rotate(-45 291.45000000000005 329.7)" textLength="16.27" lengthAdjust="spacingAndGlyphs">G8</text>
<text x="406.5" y="231.7" font-size="14.2" text-anchor="middle" textLength="32.69" lengthAdjust="spacingAndGlyphs">189.3</text>
<line x1="388.6" y1="252.1" x2="388.6" y2="317.4" stroke="#333" stroke-width="0.9"/>
<line x1="431.7" y1="252.1" x2="431.7" y2="317.4" stroke="#333" stroke-width="0.9"/>
<line x1="388.15000000000003" y1="317" x2="432.15" y2="317" stroke="#333" stroke-width="0.9"/>
<line x1="386.40000000000003" y1="264.9" x2="388.6" y2="264.9" stroke="#333" stroke-width="0.8"/>
<text x="383.0" y="269.79999999999995" font-size="12.8" text-anchor="end" textLength="22.5" lengthAdjust="spacingAndGlyphs">200</text>
<line x1="386.40000000000003" y1="291" x2="388.6" y2="291" stroke="#333" stroke-width="0.8"/>
<text x="383.0" y="295.9" font-size="12.8" text-anchor="end" textLength="22.5" lengthAdjust="spacingAndGlyphs">100</text>
<line x1="386.40000000000003" y1="317" x2="388.6" y2="317" stroke="#333" stroke-width="0.8"/>
<text x="383.0" y="320.8" font-size="12.8" text-anchor="end" textLength="7.5" lengthAdjust="spacingAndGlyphs">0</text>
<line x1="387.40000000000003" y1="252.1" x2="388.6" y2="252.1" stroke="#333" stroke-width="0.7"/>
<line x1="387.40000000000003" y1="278" x2="388.6" y2="278" stroke="#333" stroke-width="0.7"/>
<line x1="387.40000000000003" y1="304" x2="388.6" y2="304" stroke="#333" stroke-width="0.7"/>
<line x1="431.7" y1="255.6" x2="433.9" y2="255.6" stroke="#333" stroke-width="0.8"/>
<line x1="431.7" y1="317" x2="433.9" y2="317" stroke="#333" stroke-width="0.8"/>
<text x="437.4" y="260.8" font-size="12.8" textLength="33.3" lengthAdjust="spacingAndGlyphs">100%</text>
<text x="437.4" y="320.6" font-size="12.8" textLength="18" lengthAdjust="spacingAndGlyphs">0%</text>
<rect x="392.50" y="254.90" width="15.70" height="11.80" fill="#878787"/>
<rect x="392.50" y="266.70" width="15.70" height="5.50" fill="#dedede"/>
<rect x="392.50" y="272.20" width="15.70" height="44.80" fill="#050505"/>
<line x1="400.35" y1="317" x2="400.35" y2="319.2" stroke="#333" stroke-width="0.8"/>
<text x="407.35" y="329.7" font-size="13.4" text-anchor="end" transform="rotate(-45 407.35 329.7)" textLength="25.07" lengthAdjust="spacingAndGlyphs">PDX</text>
<rect x="412.80" y="254.90" width="15.70" height="12.50" fill="#878787"/>
<rect x="412.80" y="267.40" width="15.70" height="5.80" fill="#dedede"/>
<rect x="412.80" y="273.20" width="15.70" height="43.80" fill="#050505"/>
<line x1="420.65" y1="317" x2="420.65" y2="319.2" stroke="#333" stroke-width="0.8"/>
<text x="427.65" y="329.7" font-size="13.4" text-anchor="end" transform="rotate(-45 427.65 329.7)" textLength="16.27" lengthAdjust="spacingAndGlyphs">G3</text>
<text x="42.199999999999996" y="293" font-size="12.6" text-anchor="middle" transform="rotate(-90 42.199999999999996 293)" textLength="83.5" lengthAdjust="spacingAndGlyphs"># of Mutations</text>
<text x="463.5" y="336.4" font-size="12.4" textLength="47.1" lengthAdjust="spacingAndGlyphs">Clonality</text>
<rect x="462.20" y="343.70" width="7.20" height="3.20" fill="#808080" stroke="#555" stroke-width="0.5"/>
<rect x="462.20" y="356.90" width="7.20" height="3.20" fill="#dcdcdc" stroke="#888" stroke-width="0.5"/>
<rect x="462.20" y="370.70" width="7.20" height="3.20" fill="#050505"/>
<text x="472.4" y="347.9" font-size="9.2" textLength="36.3" lengthAdjust="spacingAndGlyphs">0.75−1.0</text>
<text x="472.4" y="361.2" font-size="9.2" textLength="36.3" lengthAdjust="spacingAndGlyphs">0.5−0.75</text>
<text x="472.4" y="375.0" font-size="9.2" textLength="31" lengthAdjust="spacingAndGlyphs">0.0−0.5</text>
</g>
<g id="panelC" class="pc">
<text x="4.4" y="390.6" font-size="13.4" font-weight="bold" fill="#111" style="fill:#111;stroke:#111;stroke-width:0.34px">C</text>
<rect x="87.6" y="393.8" width="212.2" height="188.2" fill="none" stroke="#6a6a6a" stroke-width="0.9"/>
<line x1="83.6" y1="406" x2="87.6" y2="406" stroke="#555" stroke-width="0.8"/>
<text x="80.6" y="410.3" font-size="12.2" text-anchor="end">0.4</text>
<line x1="83.6" y1="443.2" x2="87.6" y2="443.2" stroke="#555" stroke-width="0.8"/>
<text x="80.6" y="447.5" font-size="12.2" text-anchor="end">0.2</text>
<line x1="83.6" y1="479.8" x2="87.6" y2="479.8" stroke="#555" stroke-width="0.8"/>
<text x="80.6" y="484.1" font-size="12.2" text-anchor="end">0.0</text>
<line x1="83.6" y1="516.5" x2="87.6" y2="516.5" stroke="#555" stroke-width="0.8"/>
<text x="80.6" y="520.8" font-size="12.2" text-anchor="end">−0.2</text>
<line x1="83.6" y1="553.2" x2="87.6" y2="553.2" stroke="#555" stroke-width="0.8"/>
<text x="80.6" y="557.5" font-size="12.2" text-anchor="end">−0.4</text>
<line x1="111" y1="582" x2="111" y2="586" stroke="#555" stroke-width="0.8"/>
<text x="111" y="601.4" font-size="12.2" text-anchor="middle">0.32</text>
<line x1="164.9" y1="582" x2="164.9" y2="586" stroke="#555" stroke-width="0.8"/>
<text x="164.9" y="601.4" font-size="12.2" text-anchor="middle">0.34</text>
<line x1="218.4" y1="582" x2="218.4" y2="586" stroke="#555" stroke-width="0.8"/>
<text x="218.4" y="601.4" font-size="12.2" text-anchor="middle">0.36</text>
<line x1="272" y1="582" x2="272" y2="586" stroke="#555" stroke-width="0.8"/>
<text x="272" y="601.4" font-size="12.2" text-anchor="middle">0.38</text>
<text x="192.2" y="623.8" font-size="13.8" text-anchor="middle">PC1</text>
<text x="50.0" y="480.6" font-size="13.4" text-anchor="middle" transform="rotate(-90 50.0 480.6)" textLength="23.8" lengthAdjust="spacingAndGlyphs">PC2</text>
<rect x="92.50" y="402.30" width="4.20" height="5.80" fill="#e03030"/>
<text x="100.8" y="408.2" font-size="10.6">170.2 O</text>
<rect x="165.70" y="397.20" width="4.20" height="5.80" fill="#e03030"/>
<text x="173.5" y="403.5" font-size="10.6">23.1 P</text>
<rect x="176.00" y="427.50" width="4.20" height="5.80" fill="#e03030"/>
<text x="163.5" y="425.6" font-size="10.6">23.1 O</text>
<rect x="208.00" y="423.10" width="4.20" height="5.80" fill="#e03030"/>
<text x="205.8" y="420.8" font-size="10.6">170.2 P</text>
<rect x="244.60" y="503.10" width="4.20" height="5.80" fill="#3e4ca6"/>
<text x="240.1" y="501.5" font-size="10.6">189.3 P</text>
<rect x="289.30" y="530.40" width="4.20" height="5.80" fill="#3e4ca6"/>
<text x="271" y="528.2" font-size="10.6">167 P</text>
<rect x="205.30" y="539.70" width="4.20" height="5.80" fill="#3e4ca6"/>
<text x="201.6" y="537.9" font-size="10.6">189.3 O</text>
<rect x="192.00" y="573.30" width="4.20" height="5.80" fill="#3e4ca6"/>
<text x="187.5" y="572" font-size="10.6">167 O</text>
</g>
<g id="panelD">
<text x="326.5" y="390.0" font-size="13.4" font-weight="bold" fill="#111">D</text>
<rect x="350.10" y="461.30" width="110.80" height="121.83" fill="#0b0622"/>
<rect x="351.70" y="462.90" width="9.32" height="9.33" fill="#f8c8d8"/>
<rect x="362.62" y="462.90" width="9.32" height="9.33" fill="#f8c8d8"/>
<rect x="373.54" y="462.90" width="9.32" height="9.33" fill="#e03022"/>
<rect x="384.46" y="462.90" width="9.32" height="9.33" fill="#f88078"/>
<rect x="395.38" y="462.90" width="9.32" height="9.33" fill="#e8d8f0"/>
<rect x="406.30" y="462.90" width="9.32" height="9.33" fill="#5040a8"/>
<rect x="417.22" y="462.90" width="9.32" height="9.33" fill="#5038a8"/>
<rect x="428.14" y="462.90" width="9.32" height="9.33" fill="#4848b8"/>
<rect x="439.06" y="462.90" width="9.32" height="9.33" fill="#4848b0"/>
<rect x="449.98" y="462.90" width="9.32" height="9.33" fill="#5040a8"/>
<text x="465.3" y="470.865" font-size="9.4" textLength="20.5" lengthAdjust="spacingAndGlyphs">KRT8</text>
<rect x="351.70" y="473.83" width="9.32" height="9.33" fill="#f87878"/>
<rect x="362.62" y="473.83" width="9.32" height="9.33" fill="#f05048"/>
<rect x="373.54" y="473.83" width="9.32" height="9.33" fill="#e03028"/>
<rect x="384.46" y="473.83" width="9.32" height="9.33" fill="#f87080"/>
<rect x="395.38" y="473.83" width="9.32" height="9.33" fill="#f8d0e8"/>
<rect x="406.30" y="473.83" width="9.32" height="9.33" fill="#6860c0"/>
<rect x="417.22" y="473.83" width="9.32" height="9.33" fill="#4848b8"/>
<rect x="428.14" y="473.83" width="9.32" height="9.33" fill="#f0e8f0"/>
<rect x="439.06" y="473.83" width="9.32" height="9.33" fill="#5040a8"/>
<rect x="449.98" y="473.83" width="9.32" height="9.33" fill="#7068c0"/>
<text x="465.3" y="481.795" font-size="9.4" textLength="28.5" lengthAdjust="spacingAndGlyphs">AURKA</text>
<rect x="351.70" y="484.76" width="9.32" height="9.33" fill="#e83020"/>
<rect x="362.62" y="484.76" width="9.32" height="9.33" fill="#e83828"/>
<rect x="373.54" y="484.76" width="9.32" height="9.33" fill="#8080d0"/>
<rect x="384.46" y="484.76" width="9.32" height="9.33" fill="#5858b8"/>
<rect x="395.38" y="484.76" width="9.32" height="9.33" fill="#f86870"/>
<rect x="406.30" y="484.76" width="9.32" height="9.33" fill="#8080d0"/>
<rect x="417.22" y="484.76" width="9.32" height="9.33" fill="#f86878"/>
<rect x="428.14" y="484.76" width="9.32" height="9.33" fill="#8888d0"/>
<rect x="439.06" y="484.76" width="9.32" height="9.33" fill="#4848b0"/>
<rect x="449.98" y="484.76" width="9.32" height="9.33" fill="#5040a8"/>
<text x="465.3" y="492.725" font-size="9.4" textLength="21.5" lengthAdjust="spacingAndGlyphs">CDH1</text>
<rect x="351.70" y="495.69" width="9.32" height="9.33" fill="#f8c8e0"/>
<rect x="362.62" y="495.69" width="9.32" height="9.33" fill="#f8d0e8"/>
<rect x="373.54" y="495.69" width="9.32" height="9.33" fill="#e03028"/>
<rect x="384.46" y="495.69" width="9.32" height="9.33" fill="#f87078"/>
<rect x="395.38" y="495.69" width="9.32" height="9.33" fill="#7878c8"/>
<rect x="406.30" y="495.69" width="9.32" height="9.33" fill="#6860c0"/>
<rect x="417.22" y="495.69" width="9.32" height="9.33" fill="#4848b8"/>
<rect x="428.14" y="495.69" width="9.32" height="9.33" fill="#8080d0"/>
<rect x="439.06" y="495.69" width="9.32" height="9.33" fill="#4848b8"/>
<rect x="449.98" y="495.69" width="9.32" height="9.33" fill="#5040a8"/>
<text x="465.3" y="503.65500000000003" font-size="9.4" textLength="25" lengthAdjust="spacingAndGlyphs">KRT18</text>
<rect x="351.70" y="506.62" width="9.32" height="9.33" fill="#e83020"/>
<rect x="362.62" y="506.62" width="9.32" height="9.33" fill="#f04838"/>
<rect x="373.54" y="506.62" width="9.32" height="9.33" fill="#6860b8"/>
<rect x="384.46" y="506.62" width="9.32" height="9.33" fill="#8080c8"/>
<rect x="395.38" y="506.62" width="9.32" height="9.33" fill="#f06058"/>
<rect x="406.30" y="506.62" width="9.32" height="9.33" fill="#f0f0f8"/>
<rect x="417.22" y="506.62" width="9.32" height="9.33" fill="#4848b8"/>
<rect x="428.14" y="506.62" width="9.32" height="9.33" fill="#5040a8"/>
<rect x="439.06" y="506.62" width="9.32" height="9.33" fill="#f04838"/>
<rect x="449.98" y="506.62" width="9.32" height="9.33" fill="#f0e8f8"/>
<text x="465.3" y="514.585" font-size="9.4" textLength="27.6" lengthAdjust="spacingAndGlyphs">EPCAM</text>
<rect x="351.70" y="517.55" width="9.32" height="9.33" fill="#f88078"/>
<rect x="362.62" y="517.55" width="9.32" height="9.33" fill="#f87080"/>
<rect x="373.54" y="517.55" width="9.32" height="9.33" fill="#d8d0f0"/>
<rect x="384.46" y="517.55" width="9.32" height="9.33" fill="#e0d8f0"/>
<rect x="395.38" y="517.55" width="9.32" height="9.33" fill="#f88070"/>
<rect x="406.30" y="517.55" width="9.32" height="9.33" fill="#4848b8"/>
<rect x="417.22" y="517.55" width="9.32" height="9.33" fill="#5040a8"/>
<rect x="428.14" y="517.55" width="9.32" height="9.33" fill="#5040a8"/>
<rect x="439.06" y="517.55" width="9.32" height="9.33" fill="#f86060"/>
<rect x="449.98" y="517.55" width="9.32" height="9.33" fill="#e82820"/>
<text x="465.3" y="525.515" font-size="9.4" textLength="25" lengthAdjust="spacingAndGlyphs">KRT19</text>
<rect x="351.70" y="528.48" width="9.32" height="9.33" fill="#503aa2"/>
<rect x="362.62" y="528.48" width="9.32" height="9.33" fill="#503aa2"/>
<rect x="373.54" y="528.48" width="9.32" height="9.33" fill="#4850b8"/>
<rect x="384.46" y="528.48" width="9.32" height="9.33" fill="#503aa2"/>
<rect x="395.38" y="528.48" width="9.32" height="9.33" fill="#503aa2"/>
<rect x="406.30" y="528.48" width="9.32" height="9.33" fill="#503aa2"/>
<rect x="417.22" y="528.48" width="9.32" height="9.33" fill="#503aa2"/>
<rect x="428.14" y="528.48" width="9.32" height="9.33" fill="#503aa2"/>
<rect x="439.06" y="528.48" width="9.32" height="9.33" fill="#f8c0e0"/>
<rect x="449.98" y="528.48" width="9.32" height="9.33" fill="#e83020"/>
<text x="465.3" y="536.445" font-size="9.4" textLength="26.5" lengthAdjust="spacingAndGlyphs">FOXA2</text>
<rect x="351.70" y="539.41" width="9.32" height="9.33" fill="#503aa2"/>
<rect x="362.62" y="539.41" width="9.32" height="9.33" fill="#503aa2"/>
<rect x="373.54" y="539.41" width="9.32" height="9.33" fill="#503aa2"/>
<rect x="384.46" y="539.41" width="9.32" height="9.33" fill="#503aa2"/>
<rect x="395.38" y="539.41" width="9.32" height="9.33" fill="#503aa2"/>
<rect x="406.30" y="539.41" width="9.32" height="9.33" fill="#503aa2"/>
<rect x="417.22" y="539.41" width="9.32" height="9.33" fill="#6868c8"/>
<rect x="428.14" y="539.41" width="9.32" height="9.33" fill="#503aa2"/>
<rect x="439.06" y="539.41" width="9.32" height="9.33" fill="#f87080"/>
<rect x="449.98" y="539.41" width="9.32" height="9.33" fill="#e83020"/>
<text x="465.3" y="547.375" font-size="9.4" textLength="25" lengthAdjust="spacingAndGlyphs">ASCL1</text>
<rect x="351.70" y="550.34" width="9.32" height="9.33" fill="#503aa2"/>
<rect x="362.62" y="550.34" width="9.32" height="9.33" fill="#503aa2"/>
<rect x="373.54" y="550.34" width="9.32" height="9.33" fill="#503aa2"/>
<rect x="384.46" y="550.34" width="9.32" height="9.33" fill="#503aa2"/>
<rect x="395.38" y="550.34" width="9.32" height="9.33" fill="#503aa2"/>
<rect x="406.30" y="550.34" width="9.32" height="9.33" fill="#503aa2"/>
<rect x="417.22" y="550.34" width="9.32" height="9.33" fill="#503aa2"/>
<rect x="428.14" y="550.34" width="9.32" height="9.33" fill="#503aa2"/>
<rect x="439.06" y="550.34" width="9.32" height="9.33" fill="#f04840"/>
<rect x="449.98" y="550.34" width="9.32" height="9.33" fill="#e83020"/>
<text x="465.3" y="558.305" font-size="9.4" textLength="22" lengthAdjust="spacingAndGlyphs">CDH2</text>
<rect x="351.70" y="561.27" width="9.32" height="9.33" fill="#503aa2"/>
<rect x="362.62" y="561.27" width="9.32" height="9.33" fill="#503aa2"/>
<rect x="373.54" y="561.27" width="9.32" height="9.33" fill="#503aa2"/>
<rect x="384.46" y="561.27" width="9.32" height="9.33" fill="#503aa2"/>
<rect x="395.38" y="561.27" width="9.32" height="9.33" fill="#503aa2"/>
<rect x="406.30" y="561.27" width="9.32" height="9.33" fill="#503aa2"/>
<rect x="417.22" y="561.27" width="9.32" height="9.33" fill="#503aa2"/>
<rect x="428.14" y="561.27" width="9.32" height="9.33" fill="#503aa2"/>
<rect x="439.06" y="561.27" width="9.32" height="9.33" fill="#f04040"/>
<rect x="449.98" y="561.27" width="9.32" height="9.33" fill="#e83020"/>
<text x="465.3" y="569.235" font-size="9.4" textLength="23" lengthAdjust="spacingAndGlyphs">SCGN</text>
<rect x="351.70" y="572.20" width="9.32" height="9.33" fill="#503aa2"/>
<rect x="362.62" y="572.20" width="9.32" height="9.33" fill="#503aa2"/>
<rect x="373.54" y="572.20" width="9.32" height="9.33" fill="#503aa2"/>
<rect x="384.46" y="572.20" width="9.32" height="9.33" fill="#503aa2"/>
<rect x="395.38" y="572.20" width="9.32" height="9.33" fill="#503aa2"/>
<rect x="406.30" y="572.20" width="9.32" height="9.33" fill="#503aa2"/>
<rect x="417.22" y="572.20" width="9.32" height="9.33" fill="#503aa2"/>
<rect x="428.14" y="572.20" width="9.32" height="9.33" fill="#503aa2"/>
<rect x="439.06" y="572.20" width="9.32" height="9.33" fill="#e83820"/>
<rect x="449.98" y="572.20" width="9.32" height="9.33" fill="#f86868"/>
<text x="465.3" y="580.165" font-size="9.4" textLength="23.5" lengthAdjust="spacingAndGlyphs">CHGA</text>
<text x="359.35999999999996" y="458.6" font-size="8.6" transform="rotate(-90 359.35999999999996 458.6)">LuCaP 23.1 O</text>
<text x="370.28" y="458.6" font-size="8.6" transform="rotate(-90 370.28 458.6)">LuCaP 23.1 P</text>
<text x="381.19999999999993" y="458.6" font-size="8.6" transform="rotate(-90 381.19999999999993 458.6)">LuCaP 170.2 O</text>
<text x="392.11999999999995" y="458.6" font-size="8.6" transform="rotate(-90 392.11999999999995 458.6)">LuCaP 170.2 P</text>
<text x="403.03999999999996" y="458.6" font-size="8.6" transform="rotate(-90 403.03999999999996 458.6)">LuCaP 189.3 O</text>
<text x="413.96" y="458.6" font-size="8.6" transform="rotate(-90 413.96 458.6)">LuCaP 189.3 P</text>
<text x="424.87999999999994" y="458.6" font-size="8.6" transform="rotate(-90 424.87999999999994 458.6)">LuCaP 167 O</text>
<text x="435.79999999999995" y="458.6" font-size="8.6" transform="rotate(-90 435.79999999999995 458.6)">LuCaP 167 P</text>
<text x="446.71999999999997" y="458.6" font-size="8.6" transform="rotate(-90 446.71999999999997 458.6)">NCI-PC35-1</text>
<text x="457.63999999999993" y="458.6" font-size="8.6" transform="rotate(-90 457.63999999999993 458.6)">NCI-PC35-2</text>
<defs><linearGradient id="cb" x1="0" x2="1" y1="0" y2="0"><stop offset="0" stop-color="#3c2c9a"/><stop offset="0.1" stop-color="#4a3aa4"/><stop offset="0.3" stop-color="#a294d2"/><stop offset="0.44" stop-color="#f2eef9"/><stop offset="0.5" stop-color="#ffffff"/><stop offset="0.6" stop-color="#f9ccd4"/><stop offset="0.8" stop-color="#f07880"/><stop offset="0.92" stop-color="#e8363c"/><stop offset="1" stop-color="#e02222"/></linearGradient></defs>
<rect x="351.8" y="617" width="108.4" height="8" fill="url(#cb)" stroke="#111" stroke-width="0.9"/>
<text x="331.4" y="613.9" font-size="10.6" textLength="19.1" lengthAdjust="spacingAndGlyphs">Low</text>
<text x="460.6" y="613.9" font-size="10.6" textLength="22.3" lengthAdjust="spacingAndGlyphs">High</text>
<text x="360.5" y="639.5" font-size="10.6" textLength="91.7" lengthAdjust="spacingAndGlyphs">Relative expression</text>
</g>
</svg>
</body></html>
